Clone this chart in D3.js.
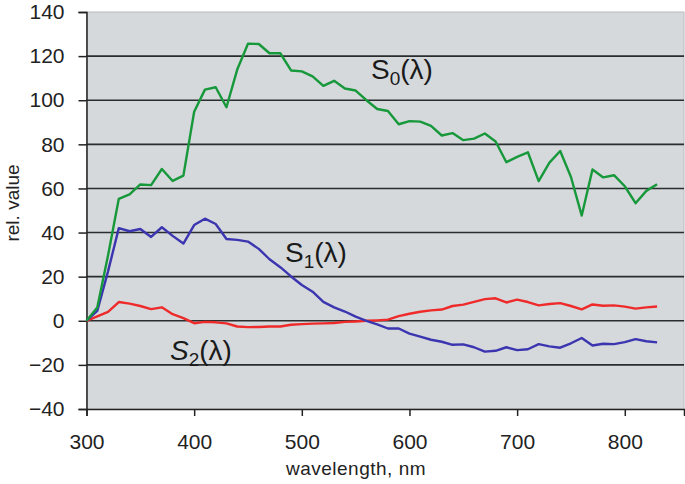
<!DOCTYPE html>
<html>
<head>
<meta charset="utf-8">
<script src="https://cdn.jsdelivr.net/npm/d3@7"></script>
<style>
  body { margin: 0; background: #fff; }
  svg { display: block; }
  .tick text { font-family: 'Liberation Sans', Arial, sans-serif; font-size: 21px; fill: #222; }
</style>
</head>
<body>
<div id="graf"></div>
<script>
// datos: componentes de luz de día CIE (10 nm)
wavelength = [300,310,320,330,340,350,360,370,380,390,400,410,420,430,440,450,460,470,480,490,
              500,510,520,530,540,550,560,570,580,590,600,610,620,630,640,650,660,670,680,690,
              700,710,720,730,740,750,760,770,780,790,800,810,820,830]
s0 = [0.04,6.0,29.6,55.3,57.3,61.8,61.5,68.8,63.4,65.8,94.8,104.8,105.9,96.8,113.9,125.6,125.5,121.3,121.3,113.5,
      113.1,110.8,106.5,108.8,105.3,104.4,100.0,96.0,95.1,89.1,90.5,90.3,88.4,84.0,85.1,81.9,82.6,84.9,81.3,71.9,
      74.3,76.4,63.3,71.7,77.0,65.2,47.7,68.6,65.0,66.0,61.0,53.3,58.9,61.9]
s1 = [0.02,4.5,22.4,42.0,40.6,41.6,38.0,42.4,38.5,35.0,43.4,46.3,43.9,37.1,36.7,35.9,32.6,27.9,24.3,20.1,
      16.2,13.2,8.6,6.1,4.2,1.9,0.0,-1.6,-3.5,-3.5,-5.8,-7.2,-8.6,-9.5,-10.9,-10.7,-12.0,-14.0,-13.6,-12.0,
      -13.3,-12.9,-10.6,-11.6,-12.2,-10.2,-7.8,-11.2,-10.4,-10.6,-9.7,-8.3,-9.3,-9.8]
s2 = [0.0,2.0,4.0,8.5,7.8,6.7,5.3,6.1,3.0,1.2,-1.1,-0.5,-0.7,-1.2,-2.6,-2.9,-2.8,-2.6,-2.6,-1.8,
      -1.5,-1.3,-1.2,-1.0,-0.5,-0.3,0.0,0.2,0.5,2.1,3.2,4.1,4.7,5.1,6.7,7.3,8.6,9.8,10.2,8.3,
      9.6,8.5,7.0,7.6,8.0,6.7,5.2,7.4,6.8,7.0,6.4,5.5,6.1,6.5]
xTicks = [300,400,500,600,700,800]
yTicks = [-40,-20,0,20,40,60,80,100,120,140]

ancho_total = 685
alto_total = 484
margins = { top: 12, left: 86.5, right: 1, bottom: 75 }
ancho = ancho_total - margins.left - margins.right
alto = alto_total - margins.top - margins.bottom

svg = d3.select('#graf').append('svg')
        .attr('width', ancho_total)
        .attr('height', alto_total)

g = svg.append('g')
       .attr('transform', `translate(${margins.left}, ${margins.top})`)

x = d3.scaleLinear().domain([300, 855]).range([0, ancho])
y = d3.scaleLinear().domain([-40, 140]).range([alto, 0])

// fondo del área de trazado
g.append('rect')
  .attr('width', ancho).attr('height', alto)
  .attr('fill', '#d5d9dc')
  .attr('stroke', '#b8bcbf')

// líneas de cuadrícula
g.selectAll('.grid')
  .data(yTicks.filter(d => d > -40 && d < 140))
  .enter().append('line')
  .attr('x1', 0).attr('x2', ancho)
  .attr('y1', d => y(d)).attr('y2', d => y(d))
  .attr('stroke', '#2a2d2e').attr('stroke-width', 1.6)

// ejes
xAxisGroup = g.append('g')
  .attr('transform', `translate(0, ${alto})`)
  .call(d3.axisBottom(x).tickValues(xTicks).tickSize(7).tickPadding(18))
xAxisGroup.select('.domain').attr('stroke', '#222').attr('stroke-width', 1.5)
xAxisGroup.selectAll('.tick line').attr('stroke', '#222').attr('stroke-width', 1.5)

yAxisGroup = g.append('g')
  .call(d3.axisLeft(y).tickValues(yTicks).tickSize(8).tickPadding(14)
          .tickFormat(d => d < 0 ? '\u2212' + Math.abs(d) : d))
yAxisGroup.select('.domain').attr('stroke', '#222').attr('stroke-width', 1.5)
yAxisGroup.selectAll('.tick line').attr('stroke', '#222').attr('stroke-width', 1.5)

// curvas
series = [
  { valores: s2, color: '#ee2a2a' },
  { valores: s1, color: '#3b35b0' },
  { valores: s0, color: '#17983a' }
]
linea = d3.line().x((d, i) => x(wavelength[i])).y(d => y(d))
series.forEach(s => {
  g.append('path')
    .datum(s.valores)
    .attr('d', linea)
    .attr('fill', 'none')
    .attr('stroke', s.color)
    .attr('stroke-width', 2.4)
    .attr('stroke-linejoin', 'round')
})

// etiquetas de las curvas
function etiqueta(px, py, sub) {
  t = svg.append('text')
    .attr('x', px).attr('y', py)
    .attr('font-family', 'Liberation Sans, Arial, sans-serif')
    .attr('font-size', '28px')
    .attr('fill', '#1a1a1a')
  t.append('tspan').text('S').attr('font-style', sub == 2 ? 'italic' : 'normal')
  t.append('tspan').text(sub).attr('font-size', '19px').attr('dy', 6)
  t.append('tspan').text('(λ)').attr('dy', -6)
}
etiqueta(371, 79, 0)
etiqueta(285, 262, 1)
etiqueta(170, 360, 2)

// títulos de ejes
svg.append('text')
  .attr('x', 356).attr('y', 475)
  .attr('text-anchor', 'middle')
  .attr('font-family', 'Liberation Sans, Arial, sans-serif')
  .attr('font-size', '19px')
  .attr('letter-spacing', '0.5px')
  .attr('fill', '#222')
  .text('wavelength, nm')

svg.append('text')
  .attr('transform', 'translate(19, 203) rotate(-90)')
  .attr('text-anchor', 'middle')
  .attr('font-family', 'Liberation Sans, Arial, sans-serif')
  .attr('font-size', '19px')
  .attr('fill', '#222')
  .text('rel. value')
</script>
</body>
</html>
